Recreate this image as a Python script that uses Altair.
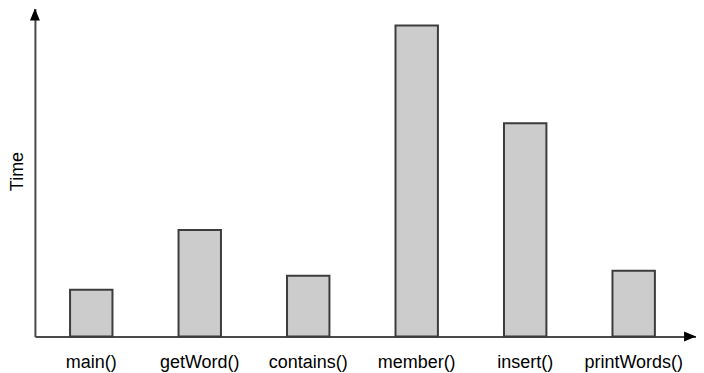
import altair as alt
import pandas as pd

functions = ["main()", "getWord()", "contains()", "member()", "insert()", "printWords()"]
times = [47, 107, 61, 312, 214, 66]
y_max = 329

df = pd.DataFrame({"function": functions, "time": times})

FONT = "Liberation Sans"

x_enc = alt.X(
    "function:N",
    sort=None,
    scale=alt.Scale(paddingInner=0.609, paddingOuter=0.3514, align=0.4608),
    axis=alt.Axis(
        title=None, domain=True, domainColor="#4a4a4a", domainWidth=2,
        ticks=False, grid=False, labelAngle=0, labelPadding=17,
        labelFontSize=18, labelFont=FONT, labelColor="black",
    ),
)
y_enc = alt.Y(
    "time:Q",
    scale=alt.Scale(domain=[0, y_max], nice=False, zero=True),
    axis=alt.Axis(
        title="Time", domain=True, domainColor="#4a4a4a", domainWidth=2,
        ticks=False, labels=False, grid=False,
        titleX=-12, titleY=163, titleAngle=270, titleAlign="center",
        titleBaseline="alphabetic", titleFontSize=18, titleFont=FONT,
        titleFontWeight="normal", titleColor="black",
    ),
)

bars = alt.Chart(df).mark_bar(
    fill="#cccccc", stroke="#3c3c3c", strokeWidth=2
).encode(x=x_enc, y=y_enc)

one = alt.Data(values=[{"a": 1}])
up_arrow = alt.Chart(one).mark_point(
    shape="M0,-1L0.8333,1L-0.8333,1Z", filled=True, fill="black",
    stroke=None, opacity=1, size=144,
).encode(x=alt.value(0), y=alt.value(6))
right_arrow = alt.Chart(one).mark_point(
    shape="M1,0L-1,-0.8333L-1,0.8333Z", filled=True, fill="black",
    stroke=None, opacity=1, size=144,
).encode(x=alt.value(657), y=alt.value(329))

chart = alt.layer(bars, up_arrow, right_arrow).properties(
    width=663, height=329,
    autosize="none",
    padding={"left": 27, "top": 0, "right": 0, "bottom": 36},
).configure_view(stroke=None)

chart.save("out.html", embed_options={"renderer": "svg", "actions": False})
